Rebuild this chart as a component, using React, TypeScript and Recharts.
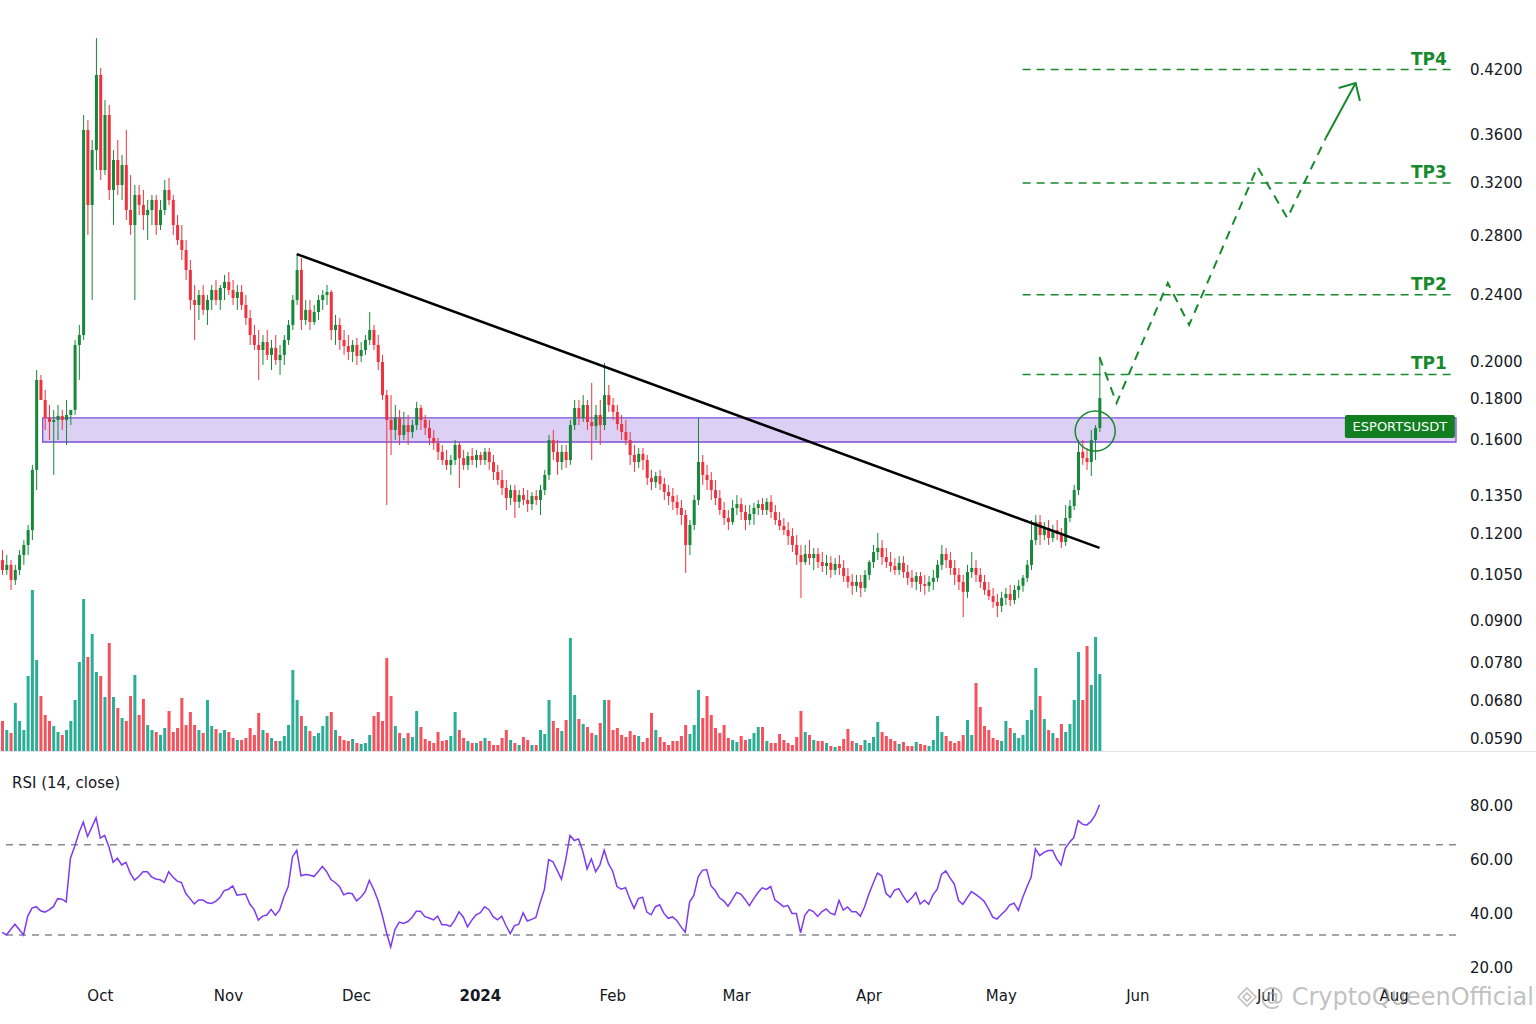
import React from 'react';
import {
  ComposedChart,
  Bar,
  Line,
  XAxis,
  YAxis,
  ReferenceLine,
  ReferenceArea,
  ReferenceDot,
} from 'recharts';

// daily slots, day 0 = 8 Sep 2023, the last slot sits at the right edge of the plot (mid Aug 2024)
const N_DAYS = 341;

// [open, high, low, close] ESPORTS/USDT daily candles
const CANDLES: number[][] = [
  [0.1102, 0.1138, 0.105, 0.1067], [0.1067, 0.112, 0.105, 0.1085], [0.1085, 0.1102, 0.0999, 0.1033], [0.1033, 0.1085, 0.1016, 0.1067],
  [0.1067, 0.1138, 0.105, 0.112], [0.112, 0.1175, 0.1085, 0.1157], [0.1157, 0.1233, 0.112, 0.1213], [0.1213, 0.1483, 0.1175, 0.1461],
  [0.1461, 0.1954, 0.1374, 0.19], [0.19, 0.1927, 0.1795, 0.1795], [0.1795, 0.1847, 0.1645, 0.1704], [0.1704, 0.1769, 0.1597, 0.1684],
  [0.1684, 0.1744, 0.1439, 0.1694], [0.1694, 0.1769, 0.1597, 0.1714], [0.1714, 0.1744, 0.1645, 0.1694], [0.1694, 0.1795, 0.1574, 0.1719],
  [0.1719, 0.1744, 0.1669, 0.1744], [0.1744, 0.2124, 0.1719, 0.2095], [0.2095, 0.2213, 0.19, 0.2153], [0.2153, 0.3775, 0.2124, 0.3642],
  [0.3642, 0.373, 0.2807, 0.3029], [0.3029, 0.3555, 0.2367, 0.347], [0.347, 0.4516, 0.3304, 0.4148], [0.4148, 0.4216, 0.3224, 0.3304],
  [0.3304, 0.3912, 0.3264, 0.3775], [0.3775, 0.3866, 0.3067, 0.3145], [0.3145, 0.347, 0.2879, 0.3387], [0.3387, 0.3555, 0.3106, 0.3184],
  [0.3184, 0.3428, 0.3067, 0.3345], [0.3345, 0.3642, 0.2916, 0.2991], [0.2991, 0.3264, 0.2807, 0.2879], [0.2879, 0.3184, 0.2367, 0.3106],
  [0.3106, 0.3184, 0.2953, 0.3029], [0.3029, 0.3145, 0.2843, 0.2953], [0.2953, 0.3067, 0.2771, 0.2991], [0.2991, 0.3106, 0.2879, 0.3067],
  [0.3067, 0.3106, 0.2807, 0.2879], [0.2879, 0.3067, 0.2843, 0.2991], [0.2991, 0.3224, 0.2953, 0.3145], [0.3145, 0.324, 0.3029, 0.3067],
  [0.3067, 0.3106, 0.2807, 0.2879], [0.2879, 0.2953, 0.2735, 0.2771], [0.2771, 0.2879, 0.2631, 0.27], [0.27, 0.2771, 0.2497, 0.2563],
  [0.2563, 0.2631, 0.2305, 0.2367], [0.2367, 0.2464, 0.2124, 0.2336], [0.2336, 0.2431, 0.2243, 0.2399], [0.2399, 0.2464, 0.2274, 0.2305],
  [0.2305, 0.2399, 0.2213, 0.2367], [0.2367, 0.2464, 0.2305, 0.2431], [0.2431, 0.2497, 0.2336, 0.2367], [0.2367, 0.2464, 0.2305, 0.2444],
  [0.2444, 0.253, 0.2367, 0.2484], [0.2484, 0.255, 0.2399, 0.2431], [0.2431, 0.2497, 0.2336, 0.238], [0.238, 0.2464, 0.2305, 0.2418],
  [0.2418, 0.2464, 0.2305, 0.2336], [0.2336, 0.2399, 0.2213, 0.2255], [0.2255, 0.2305, 0.2095, 0.2153], [0.2153, 0.2213, 0.2066, 0.2095],
  [0.2095, 0.2183, 0.19, 0.2066], [0.2066, 0.2153, 0.1982, 0.2112], [0.2112, 0.2183, 0.2009, 0.2038], [0.2038, 0.2124, 0.1954, 0.2078],
  [0.2078, 0.2153, 0.1982, 0.2009], [0.2009, 0.2095, 0.1927, 0.2038], [0.2038, 0.2153, 0.1982, 0.2124], [0.2124, 0.2243, 0.2095, 0.2213],
  [0.2213, 0.2399, 0.2183, 0.2367], [0.2367, 0.2672, 0.2336, 0.2563], [0.2563, 0.2645, 0.2183, 0.2243], [0.2243, 0.2367, 0.2213, 0.2305],
  [0.2305, 0.2367, 0.2183, 0.2231], [0.2231, 0.2336, 0.2213, 0.2292], [0.2292, 0.2399, 0.2243, 0.2367], [0.2367, 0.2431, 0.2305, 0.2399],
  [0.2399, 0.2464, 0.2336, 0.2418], [0.2418, 0.2431, 0.2124, 0.2183], [0.2183, 0.2274, 0.2095, 0.2213], [0.2213, 0.2255, 0.2066, 0.2124],
  [0.2124, 0.2183, 0.2038, 0.2089], [0.2089, 0.2153, 0.2009, 0.2055], [0.2055, 0.2124, 0.1998, 0.2095], [0.2095, 0.2136, 0.1982, 0.2032],
  [0.2032, 0.2112, 0.1998, 0.2066], [0.2066, 0.2153, 0.2038, 0.2124], [0.2124, 0.2292, 0.2095, 0.2183], [0.2183, 0.2213, 0.2066, 0.2095],
  [0.2095, 0.2153, 0.1954, 0.1998], [0.1998, 0.2038, 0.1795, 0.182], [0.182, 0.1847, 0.1312, 0.1694], [0.1694, 0.182, 0.1528, 0.1645],
  [0.1645, 0.1769, 0.1597, 0.1704], [0.1704, 0.1744, 0.1574, 0.1621], [0.1621, 0.1734, 0.1597, 0.1669], [0.1669, 0.1719, 0.1574, 0.1635],
  [0.1635, 0.1694, 0.1607, 0.1669], [0.1669, 0.1785, 0.1645, 0.1754], [0.1754, 0.1769, 0.1645, 0.1694], [0.1694, 0.1719, 0.1621, 0.1655],
  [0.1655, 0.1694, 0.1574, 0.1607], [0.1607, 0.1645, 0.1551, 0.1583], [0.1583, 0.1607, 0.1505, 0.1542], [0.1542, 0.1574, 0.1483, 0.1505],
  [0.1505, 0.1551, 0.1461, 0.1483], [0.1483, 0.1528, 0.1439, 0.1505], [0.1505, 0.1597, 0.1483, 0.1574], [0.1574, 0.1588, 0.1383, 0.1514],
  [0.1514, 0.1551, 0.1461, 0.1483], [0.1483, 0.1542, 0.1461, 0.1523], [0.1523, 0.156, 0.1483, 0.1505], [0.1505, 0.1551, 0.147, 0.1528],
  [0.1528, 0.1542, 0.1483, 0.1505], [0.1505, 0.156, 0.1483, 0.1542], [0.1542, 0.156, 0.1461, 0.1496], [0.1496, 0.1528, 0.1417, 0.1452],
  [0.1452, 0.1483, 0.1396, 0.1417], [0.1417, 0.1461, 0.1353, 0.1383], [0.1383, 0.1417, 0.1292, 0.1341], [0.1341, 0.1396, 0.1312, 0.1374],
  [0.1374, 0.1396, 0.126, 0.1325], [0.1325, 0.1374, 0.13, 0.1353], [0.1353, 0.1383, 0.1312, 0.1333], [0.1333, 0.1374, 0.1284, 0.1316],
  [0.1316, 0.1366, 0.1292, 0.1349], [0.1349, 0.1374, 0.1312, 0.1333], [0.1333, 0.1396, 0.1272, 0.1374], [0.1374, 0.1461, 0.1353, 0.1439],
  [0.1439, 0.1621, 0.1417, 0.1597], [0.1597, 0.1645, 0.1505, 0.1542], [0.1542, 0.1597, 0.1439, 0.1496], [0.1496, 0.1574, 0.1461, 0.1542],
  [0.1542, 0.1574, 0.147, 0.1505], [0.1505, 0.1694, 0.1483, 0.1669], [0.1669, 0.1795, 0.1645, 0.1754], [0.1754, 0.1795, 0.1669, 0.1704],
  [0.1704, 0.182, 0.1684, 0.1769], [0.1769, 0.1795, 0.1645, 0.1684], [0.1684, 0.1884, 0.1505, 0.1664], [0.1664, 0.1769, 0.1597, 0.1719],
  [0.1719, 0.1795, 0.1574, 0.1669], [0.1669, 0.1993, 0.1645, 0.182], [0.182, 0.1873, 0.1734, 0.1769], [0.1769, 0.1805, 0.1694, 0.1734],
  [0.1734, 0.1769, 0.1645, 0.1674], [0.1674, 0.1719, 0.1597, 0.1635], [0.1635, 0.1694, 0.1574, 0.1597], [0.1597, 0.1635, 0.1483, 0.1528],
  [0.1528, 0.1574, 0.1452, 0.1496], [0.1496, 0.156, 0.147, 0.1533], [0.1533, 0.156, 0.1461, 0.1505], [0.1505, 0.1528, 0.1396, 0.1426],
  [0.1426, 0.1461, 0.1374, 0.1408], [0.1408, 0.1452, 0.1383, 0.1434], [0.1434, 0.1461, 0.1374, 0.14], [0.14, 0.1426, 0.1333, 0.1366],
  [0.1366, 0.1396, 0.1312, 0.1349], [0.1349, 0.1383, 0.1292, 0.1325], [0.1325, 0.1353, 0.1272, 0.13], [0.13, 0.1333, 0.1233, 0.1272],
  [0.1272, 0.1292, 0.1057, 0.1157], [0.1157, 0.1252, 0.112, 0.1233], [0.1233, 0.1353, 0.1213, 0.1333], [0.1333, 0.1704, 0.1312, 0.1496],
  [0.1496, 0.1528, 0.1396, 0.1439], [0.1439, 0.1483, 0.1374, 0.1417], [0.1417, 0.1452, 0.1333, 0.1374], [0.1374, 0.1417, 0.1312, 0.1341],
  [0.1341, 0.1374, 0.1272, 0.1292], [0.1292, 0.1325, 0.1233, 0.126], [0.126, 0.1292, 0.1213, 0.1244], [0.1244, 0.1333, 0.1233, 0.13],
  [0.13, 0.1353, 0.1272, 0.1316], [0.1316, 0.1341, 0.1252, 0.1284], [0.1284, 0.1312, 0.1213, 0.1252], [0.1252, 0.1312, 0.1233, 0.1276],
  [0.1276, 0.1321, 0.1233, 0.13], [0.13, 0.1333, 0.1272, 0.1316], [0.1316, 0.1341, 0.1272, 0.1292], [0.1292, 0.1341, 0.1272, 0.1325],
  [0.1325, 0.1353, 0.126, 0.1284], [0.1284, 0.1312, 0.1233, 0.1252], [0.1252, 0.1284, 0.1213, 0.1229], [0.1229, 0.126, 0.1194, 0.1213],
  [0.1213, 0.1244, 0.1157, 0.119], [0.119, 0.1221, 0.1131, 0.1157], [0.1157, 0.1194, 0.1085, 0.112], [0.112, 0.1157, 0.0973, 0.1095],
  [0.1095, 0.1157, 0.1085, 0.1124], [0.1124, 0.1175, 0.1085, 0.1109], [0.1109, 0.1146, 0.1067, 0.1124], [0.1124, 0.1146, 0.1074, 0.1095],
  [0.1095, 0.1131, 0.106, 0.1081], [0.1081, 0.112, 0.105, 0.1092], [0.1092, 0.1116, 0.104, 0.1067], [0.1067, 0.1109, 0.105, 0.1088],
  [0.1088, 0.112, 0.105, 0.1074], [0.1074, 0.1102, 0.1026, 0.1046], [0.1046, 0.1074, 0.1006, 0.1026], [0.1026, 0.1053, 0.0983, 0.1013],
  [0.1013, 0.105, 0.0993, 0.1026], [0.1026, 0.105, 0.0976, 0.1006], [0.1006, 0.1067, 0.0993, 0.105], [0.105, 0.1102, 0.1033, 0.1095],
  [0.1095, 0.1157, 0.1074, 0.1131], [0.1131, 0.1202, 0.1102, 0.1146], [0.1146, 0.1175, 0.1085, 0.1113], [0.1113, 0.1146, 0.1074, 0.1095],
  [0.1095, 0.1131, 0.106, 0.1081], [0.1081, 0.1109, 0.105, 0.1067], [0.1067, 0.1116, 0.105, 0.1092], [0.1092, 0.1116, 0.104, 0.106],
  [0.106, 0.1085, 0.1016, 0.104], [0.104, 0.1067, 0.1006, 0.1026], [0.1026, 0.106, 0.0999, 0.1046], [0.1046, 0.106, 0.0993, 0.1019],
  [0.1019, 0.105, 0.0983, 0.1013], [0.1013, 0.1046, 0.0993, 0.1026], [0.1026, 0.1067, 0.0999, 0.104], [0.104, 0.1102, 0.1026, 0.1085],
  [0.1085, 0.1157, 0.1067, 0.1124], [0.1124, 0.1146, 0.1074, 0.1102], [0.1102, 0.1131, 0.105, 0.1074], [0.1074, 0.1102, 0.1016, 0.105],
  [0.105, 0.1074, 0.0999, 0.1026], [0.1026, 0.105, 0.0912, 0.0993], [0.0993, 0.1085, 0.0973, 0.106], [0.106, 0.1131, 0.104, 0.1074],
  [0.1074, 0.1102, 0.1026, 0.105], [0.105, 0.1074, 0.1006, 0.1026], [0.1026, 0.105, 0.0983, 0.0999], [0.0999, 0.1026, 0.0966, 0.0979],
  [0.0979, 0.1006, 0.0941, 0.096], [0.096, 0.0986, 0.0912, 0.0947], [0.0947, 0.0993, 0.0928, 0.0973], [0.0973, 0.1006, 0.095, 0.0986],
  [0.0986, 0.1016, 0.0947, 0.0966], [0.0966, 0.1016, 0.0953, 0.0999], [0.0999, 0.1033, 0.0973, 0.1013], [0.1013, 0.105, 0.0993, 0.104],
  [0.104, 0.1102, 0.1026, 0.1085], [0.1085, 0.1252, 0.1067, 0.1175], [0.1175, 0.1272, 0.1157, 0.1244], [0.1244, 0.1272, 0.1157, 0.1194],
  [0.1194, 0.1244, 0.1175, 0.1221], [0.1221, 0.1252, 0.1157, 0.1183], [0.1183, 0.1233, 0.1168, 0.1213], [0.1213, 0.1252, 0.1175, 0.1198],
  [0.1198, 0.1221, 0.1146, 0.1168], [0.1168, 0.1312, 0.1153, 0.126], [0.126, 0.1333, 0.1244, 0.1308], [0.1308, 0.1396, 0.1292, 0.1374],
  [0.1374, 0.1597, 0.1353, 0.1542], [0.1542, 0.1597, 0.1483, 0.1514], [0.1514, 0.156, 0.1461, 0.1496], [0.1496, 0.1645, 0.1434, 0.1597],
  [0.1597, 0.1669, 0.1505, 0.1655], [0.1655, 0.2026, 0.1635, 0.1805],
];

// daily volume, millions of ESPORTS
const VOLUME: number[] = [
  3.1, 2.2, 1.9, 4.9, 3.1, 2.2, 7.6, 16.2, 9.2, 5.6,
  3.7, 3.1, 2.6, 2.0, 1.7, 2.2, 3.1, 5.2, 9.0, 15.3,
  9.5, 11.8, 8.0, 7.6, 5.5, 10.9, 5.5, 4.4, 3.4, 3.1,
  5.6, 7.7, 3.7, 5.3, 2.7, 2.2, 2.0, 1.7, 2.4, 4.1,
  2.0, 2.4, 5.4, 2.7, 4.0, 2.7, 2.2, 1.9, 5.2, 2.6,
  2.3, 1.9, 2.2, 2.0, 1.4, 1.2, 1.2, 1.4, 2.4, 1.7,
  3.9, 2.2, 1.9, 1.4, 1.1, 1.1, 1.6, 2.7, 8.2, 5.2,
  3.6, 2.6, 2.1, 1.6, 1.9, 2.6, 3.6, 4.0, 2.2, 1.6,
  1.2, 1.1, 1.3, 0.9, 0.8, 0.9, 1.7, 3.6, 4.0, 3.1,
  9.4, 5.6, 2.6, 1.9, 1.4, 1.9, 1.5, 4.1, 2.5, 1.3,
  1.1, 0.9, 2.0, 1.1, 1.2, 1.6, 4.0, 2.2, 1.4, 1.1,
  0.9, 0.9, 1.1, 1.4, 1.1, 0.7, 0.7, 1.4, 2.2, 1.2,
  0.9, 0.7, 1.5, 1.2, 0.7, 0.7, 2.2, 1.8, 5.2, 3.1,
  2.4, 2.1, 3.2, 11.4, 5.7, 3.3, 2.8, 2.5, 1.9, 1.7,
  2.9, 5.2, 5.2, 2.2, 2.4, 1.7, 1.5, 2.1, 1.7, 1.6,
  1.0, 1.4, 3.9, 2.2, 1.5, 1.0, 0.7, 1.1, 1.1, 1.6,
  2.7, 1.8, 2.7, 6.2, 3.4, 5.6, 3.7, 2.4, 1.9, 2.7,
  1.4, 1.2, 1.0, 1.6, 1.2, 1.3, 1.9, 2.5, 2.5, 1.1,
  0.9, 0.9, 1.8, 1.2, 0.9, 0.7, 1.5, 4.1, 2.0, 1.7,
  1.2, 1.1, 1.1, 0.9, 0.6, 0.5, 0.6, 1.3, 2.3, 1.1,
  0.9, 0.7, 1.2, 0.9, 1.5, 3.0, 2.0, 1.6, 1.3, 1.1,
  0.8, 1.0, 0.6, 0.6, 1.0, 0.8, 0.7, 0.6, 1.2, 3.6,
  2.0, 1.6, 1.1, 0.9, 1.1, 1.7, 3.2, 1.7, 6.9, 4.5,
  2.6, 2.2, 1.4, 1.2, 1.1, 3.1, 2.4, 1.9, 1.4, 1.7,
  3.2, 4.2, 8.4, 5.6, 3.3, 2.2, 1.9, 1.4, 2.8, 2.0,
  2.8, 5.2, 10.0, 5.2, 10.6, 6.7, 11.5, 7.8,
];

// RSI (14, close)
const RSI: number[] = [
  33, 32, 34, 36, 34, 32, 39, 42, 42.5, 41,
  40.5, 41.3, 42.5, 45.5, 45.3, 44.3, 60.5, 65, 70, 74,
  68.6, 72, 75.6, 68, 69, 64.8, 59, 60.5, 58, 59,
  55, 52.4, 53.7, 55.5, 55.5, 53.6, 52.8, 52.5, 51.5, 55.5,
  53.5, 52, 51.5, 47.5, 45.5, 43.5, 45, 45, 44, 43.7,
  44.5, 45.9, 48.5, 49, 50.2, 46.8, 47, 47.2, 43.5, 41.5,
  37.5, 39, 39.4, 41.5, 39.3, 41.3, 46.2, 50, 61, 63.5,
  54, 54.5, 54.3, 53.7, 55.5, 57.5, 55.5, 52.6, 51.5, 50,
  46.9, 47.6, 47.3, 44.7, 46, 48, 52.3, 49, 45, 39.5,
  33, 27.5, 34, 36.8, 36.3, 37, 38.5, 40.8, 40.8, 38.8,
  38.3, 37.6, 39, 35.8, 35.8, 35.2, 37.5, 40.6, 38.7, 35,
  37.5, 39.5, 40.3, 42.5, 41.4, 38.8, 37.6, 39, 35.5, 32.5,
  35.5, 36, 40.2, 37.2, 37.8, 38.5, 44, 49, 60, 59.2,
  56, 52.7, 60, 69, 67.1, 67.7, 63, 56.5, 60.3, 55.5,
  58, 63.5, 58.5, 55.7, 50, 49, 49.6, 45.4, 41.9, 45.5,
  46, 40.5, 39.5, 42.5, 43.2, 40, 38.2, 38.7, 37.4, 35,
  33, 44.2, 46.7, 53.5, 56, 56.3, 50.3, 48.5, 45.8, 44.7,
  42.7, 45.1, 47.8, 47.2, 45.2, 42.9, 45.4, 47.7, 49.5, 48.9,
  50, 45, 43.8, 42.5, 43, 40, 40, 32.8, 39.3, 41.4,
  40.7, 38.9, 40.7, 41.7, 40.1, 39.5, 44.8, 41.2, 42.4, 40.6,
  40.6, 39, 42.5, 47.2, 51.2, 55, 54, 47.5, 46, 48.7,
  49.2, 46.5, 44.1, 45.7, 47.8, 43.5, 44.9, 43.4, 46.9, 49,
  54.5, 55.8, 53.2, 50.9, 44.8, 43.4, 45.8, 48.1, 47.1, 45.9,
  44.5, 41.8, 38.6, 37.9, 39.6, 41.1, 43.2, 43.8, 41.1, 45.8,
  49.8, 53.5, 64, 61.5, 62.7, 63.4, 63.5, 60.2, 58, 64.2,
  66.5, 68.2, 74.5, 73.2, 72.8, 74.2, 76.5, 80.4,
];

const PRICE_TICKS = [0.42, 0.36, 0.32, 0.28, 0.24, 0.2, 0.18, 0.16, 0.135, 0.12, 0.105, 0.09, 0.078, 0.068, 0.059];
const PRICE_DOMAIN = [0.05607, 0.492];
const VOLUME_MAX = 75.2;
const RSI_TICKS = [20, 40, 60, 80];
const RSI_DOMAIN = [16, 100];
const RSI_BANDS = [65.5, 32];

const MONTH_TICK_DAYS = [23, 53, 83, 112, 143, 172, 203, 234, 266, 296, 326];
const MONTH_LABELS = ['Oct', 'Nov', 'Dec', '2024', 'Feb', 'Mar', 'Apr', 'May', 'Jun', 'Jul', 'Aug'];

// drawing annotations
const TP_LEVELS = [0.42, 0.32, 0.24, 0.193];
const TP_NAMES = ['TP4', 'TP3', 'TP2', 'TP1'];
const TP_FROM_DAY = 239;
const ZONE = [0.1588, 0.1704];
const ZONE_FROM_DAY = 10;
const TRENDLINE = [[69, 0.2672], [257, 0.1146]];
const PROJECTION = [[257, 0.2026], [261, 0.1779], [273, 0.2477], [278, 0.2213], [294, 0.3329], [301, 0.2931], [310, 0.3572]];
const PROJECTION_END = [[310, 0.3572], [317, 0.4071]];
const ARROW_HEAD = [[313, 0.4024], [317, 0.4071], [318, 0.3903]];
const BREAKOUT = [256, 0.164];

const UP = '#15883a';
const DOWN = '#f0323f';
const VOL_UP = '#2aae96';
const VOL_DOWN = '#f5525e';
const GREEN = '#178a2e';
const PURPLE = '#7c4dd6';
const RSI_COLOR = '#7e3af2';
const TEXT = '#131722';
const FONT = 'DejaVu Sans';

// the price pane uses a fourth-root price scale
const toT = (p: number) => Math.pow(p, 0.25);
const fromT = (t: number) => Math.pow(t, 4);

const rows: any[] = Array.from({ length: N_DAYS }, (_, d) => {
  const row: any = { d };
  const k = CANDLES[d];
  if (k) {
    const [o, h, l, c] = k;
    Object.assign(row, { o, h, l, c, hl: [toT(l), toT(h)], up: c >= o, vol: VOLUME[d], rsi: RSI[d] });
  }
  return row;
});
PROJECTION.forEach(([d, p]) => (rows[d].proj = toT(p)));
PROJECTION_END.forEach(([d, p]) => (rows[d].projEnd = toT(p)));
ARROW_HEAD.forEach(([d, p]) => (rows[d].arrow = toT(p)));

const Candle = (props: any) => {
  const { x, y, width, height, payload } = props;
  if (!payload || payload.o == null) return null;
  const top = Math.min(y, y + height);
  const span = Math.abs(height);
  const tH = toT(payload.h);
  const tL = toT(payload.l);
  const yOf = (p: number) => top + (span * (tH - toT(p))) / (tH - tL || 1);
  const yO = yOf(payload.o);
  const yC = yOf(payload.c);
  const color = payload.up ? UP : DOWN;
  const cx = x + width / 2;
  return (
    <g>
      <line x1={cx} x2={cx} y1={top} y2={top + span} stroke={color} strokeWidth={1} />
      <rect x={x} y={Math.min(yO, yC)} width={width} height={Math.max(1, Math.abs(yC - yO))} fill={color} />
    </g>
  );
};

const VolumeBar = (props: any) => {
  const { x, y, width, height, payload } = props;
  if (!payload || payload.vol == null) return null;
  return <rect x={x} y={Math.min(y, y + height)} width={width} height={Math.abs(height)} fill={payload.up ? VOL_UP : VOL_DOWN} />;
};

const MonthTick = (props: any) => {
  const { x, y, payload } = props;
  const label = MONTH_LABELS[MONTH_TICK_DAYS.indexOf(payload.value)];
  return (
    <text x={x} y={y} dy="0.71em" textAnchor="middle" fill={TEXT} fontSize={15} fontFamily={FONT} fontWeight={label === '2024' ? 700 : 400}>
      {label}
    </text>
  );
};

const tpLabel = (name: string) => (p: any) => (
  <text x={p.cx - 7} y={p.cy - 5} textAnchor="end" fill={GREEN} fontSize={17} fontWeight={700} fontFamily={FONT}>
    {name}
  </text>
);

const symbolTag = (p: any) => (
  <g>
    <rect x={p.cx - 109} y={p.cy - 3} width={110} height={23} rx={2} fill="#117f1f" />
    <text x={p.cx - 54} y={p.cy + 13} textAnchor="middle" fill="#fff" fontSize={13} fontFamily={FONT}>
      ESPORTSUSDT
    </text>
  </g>
);

const axisTick = { fill: TEXT, fontSize: 15, fontFamily: FONT };

export default function App() {
  return (
    <div style={{ position: 'absolute', left: 0, top: 0, width: 1536, height: 1024, background: '#fff', overflow: 'hidden', fontFamily: FONT }}>
      {/* volume under the candles */}
      <div style={{ position: 'absolute', left: 0, top: 0 }}>
        <ComposedChart width={1536} height={752} data={rows} margin={{ top: 0, right: 80, bottom: 0, left: 0 }}>
          <XAxis dataKey="d" type="category" scale="band" hide />
          <YAxis yAxisId="vol" hide domain={[0, VOLUME_MAX]} allowDataOverflow />
          <Bar yAxisId="vol" dataKey="vol" barSize={3} shape={VolumeBar} isAnimationActive={false} />
        </ComposedChart>
      </div>

      {/* price pane */}
      <div style={{ position: 'absolute', left: 0, top: 0 }}>
        <ComposedChart width={1536} height={752} data={rows} margin={{ top: 0, right: 0, bottom: 0, left: 0 }}>
          <XAxis dataKey="d" type="category" scale="band" hide />
          <YAxis
            yAxisId="price"
            orientation="right"
            width={80}
            type="number"
            domain={PRICE_DOMAIN.map(toT)}
            allowDataOverflow
            ticks={PRICE_TICKS.map(toT)}
            interval={0}
            tickFormatter={(t: number) => fromT(t).toFixed(4)}
            axisLine={false}
            tickLine={false}
            tickSize={0}
            tickMargin={14}
            tick={axisTick}
          />
          <ReferenceArea
            yAxisId="price"
            x1={ZONE_FROM_DAY}
            y1={toT(ZONE[0])}
            y2={toT(ZONE[1])}
            fill="rgba(150,110,225,0.32)"
            fillOpacity={1}
            stroke={PURPLE}
            strokeWidth={1.3}
            ifOverflow="visible"
          />
          <Bar yAxisId="price" dataKey="hl" barSize={3} shape={Candle} isAnimationActive={false} />
          <ReferenceLine
            yAxisId="price"
            segment={TRENDLINE.map(([d, p]) => ({ x: d, y: toT(p) }))}
            stroke="#000"
            strokeWidth={2.5}
            ifOverflow="visible"
          />
          {TP_LEVELS.map((p, i) => (
            <ReferenceLine
              key={TP_NAMES[i]}
              yAxisId="price"
              segment={[{ x: TP_FROM_DAY, y: toT(p) }, { x: N_DAYS - 1, y: toT(p) }]}
              stroke={GREEN}
              strokeWidth={1.5}
              strokeDasharray="8 6"
              ifOverflow="visible"
            />
          ))}
          <Line yAxisId="price" dataKey="proj" stroke={GREEN} strokeWidth={2} strokeDasharray="9 7" dot={false} activeDot={false} connectNulls isAnimationActive={false} />
          <Line yAxisId="price" dataKey="projEnd" stroke={GREEN} strokeWidth={2} dot={false} activeDot={false} connectNulls isAnimationActive={false} />
          <Line yAxisId="price" dataKey="arrow" stroke={GREEN} strokeWidth={2} dot={false} activeDot={false} connectNulls isAnimationActive={false} />
          <ReferenceDot yAxisId="price" x={BREAKOUT[0]} y={toT(BREAKOUT[1])} r={20} fill="none" stroke={GREEN} strokeWidth={1.5} ifOverflow="visible" />
          {TP_LEVELS.map((p, i) => (
            <ReferenceDot key={'l' + TP_NAMES[i]} yAxisId="price" x={N_DAYS - 1} y={toT(p)} r={0} shape={tpLabel(TP_NAMES[i])} ifOverflow="visible" />
          ))}
          <ReferenceDot yAxisId="price" x={N_DAYS - 1} y={toT(ZONE[1])} r={0} shape={symbolTag} ifOverflow="visible" />
        </ComposedChart>
      </div>

      <div style={{ position: 'absolute', left: 0, top: 751, width: 1536, height: 1, background: '#e0e3eb' }} />

      {/* RSI pane */}
      <div style={{ position: 'absolute', left: 0, top: 752 }}>
        <ComposedChart width={1536} height={272} data={rows} margin={{ top: 0, right: 0, bottom: 0, left: 0 }}>
          <XAxis
            dataKey="d"
            type="category"
            scale="band"
            ticks={MONTH_TICK_DAYS}
            interval={0}
            height={46}
            axisLine={false}
            tickLine={false}
            tickSize={0}
            tickMargin={12}
            tick={<MonthTick />}
          />
          <YAxis
            orientation="right"
            width={80}
            type="number"
            domain={RSI_DOMAIN}
            allowDataOverflow
            ticks={RSI_TICKS}
            interval={0}
            tickFormatter={(v: number) => v.toFixed(2)}
            axisLine={false}
            tickLine={false}
            tickSize={0}
            tickMargin={14}
            tick={axisTick}
          />
          {RSI_BANDS.map((v) => (
            <ReferenceLine key={v} y={v} stroke="#868993" strokeWidth={1.4} strokeDasharray="7 6" />
          ))}
          <Line dataKey="rsi" stroke={RSI_COLOR} strokeWidth={1.5} dot={false} activeDot={false} isAnimationActive={false} />
        </ComposedChart>
      </div>

      <div style={{ position: 'absolute', left: 12, top: 774, fontSize: 15, lineHeight: '18px', color: TEXT }}>RSI (14, close)</div>

      <div style={{ position: 'absolute', left: 1236, top: 982, height: 30, display: 'flex', alignItems: 'center', color: 'rgba(150,150,150,0.6)', fontSize: 24 }}>
        <svg width={22} height={22} viewBox="0 0 22 22" style={{ marginRight: 2 }}>
          <path d="M11 2 L20 11 L11 20 L2 11 Z M11 7 L15 11 L11 15 L7 11 Z" fill="none" stroke="rgba(150,150,150,0.6)" strokeWidth={1.6} />
        </svg>
        <span>@ CryptoQueenOfficial</span>
      </div>
    </div>
  );
}
